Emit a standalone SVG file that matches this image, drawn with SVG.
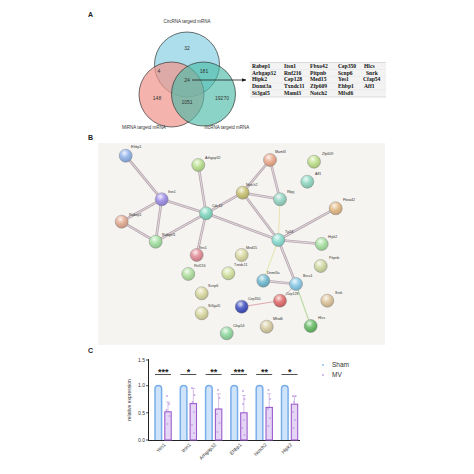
<svg xmlns="http://www.w3.org/2000/svg" xmlns:xlink="http://www.w3.org/1999/xlink" width="474" height="474" viewBox="0 0 474 474">
<defs>
<radialGradient id="hl" cx="0.4" cy="0.3" r="0.7">
<stop offset="0" stop-color="#fff" stop-opacity="0.85"/>
<stop offset="0.45" stop-color="#fff" stop-opacity="0.15"/>
<stop offset="1" stop-color="#000" stop-opacity="0.12"/>
</radialGradient>
<marker id="arr" viewBox="0 0 10 10" refX="9" refY="5" markerWidth="6" markerHeight="6" orient="auto"><path d="M0,1 L10,5 L0,9 z" fill="#222"/></marker>
</defs>
<style>
.lbl{font-family:"Liberation Sans",Arial,sans-serif;font-weight:bold;font-size:7px;fill:#222}
.vt{font-family:"Liberation Sans",Arial,sans-serif;font-size:5px;fill:#333;text-anchor:middle}
.vl{font-family:"Liberation Sans",Arial,sans-serif;font-size:4.5px;fill:#333;text-anchor:middle}
.tb{font-family:"Liberation Serif","Times New Roman",serif;font-weight:bold;font-size:5.6px;fill:#111}
.nl{font-family:"Liberation Sans",Arial,sans-serif;font-size:3.6px;fill:#333}
.nd{stroke:#8a8a8a;stroke-width:0.5}
.ax{font-family:"Liberation Sans",Arial,sans-serif;font-size:5px;fill:#333}
.st{font-family:"Liberation Sans",Arial,sans-serif;font-size:9px;font-weight:bold;fill:#222;text-anchor:middle}
.sh{fill:#cfe3fa;stroke:#78aeea;stroke-width:1.5}
.mv{fill:#e6d6f5;stroke:#9a5ccc;stroke-width:1.1}
.eb{stroke:#b894dc;stroke-width:0.6;fill:none}
.dt{fill:#c8a8e8}
.lg{font-family:"Liberation Sans",Arial,sans-serif;font-size:6.5px;fill:#333}
</style>
<rect width="474" height="474" fill="#fff"/>

<!-- Panel A -->
<text class="lbl" x="88" y="17">A</text>
<g id="venn">
<circle cx="187" cy="64.5" r="32.5" fill="#9fd8e8" fill-opacity="0.85" stroke="#333" stroke-width="0.7"/>
<circle cx="171.5" cy="94.5" r="32.5" fill="#f0958c" fill-opacity="0.72" stroke="#333" stroke-width="0.7"/>
<circle cx="203.5" cy="94" r="32" fill="#4bbca8" fill-opacity="0.65" stroke="#333" stroke-width="0.7"/>
<text class="vl" x="187" y="23">CircRNA targetd mRNA</text>
<text class="vl" x="144" y="129">MiRNA targetd mRNA</text>
<text class="vl" x="227" y="129">lncRNA targetd mRNA</text>
<text class="vt" x="187" y="50">32</text>
<text class="vt" x="159" y="73">4</text>
<text class="vt" x="204" y="73">181</text>
<text class="vt" x="187" y="82">24</text>
<text class="vt" x="157" y="100">148</text>
<text class="vt" x="187" y="104">1051</text>
<text class="vt" x="222" y="100">19270</text>
</g>
<g id="connA"><line x1="192" y1="80" x2="246" y2="80" stroke="#222" stroke-width="0.8" marker-end="url(#arr)"/></g>
<g id="table">
<rect x="250" y="62.5" width="136" height="34.5" fill="#f3f3f3"/>
<line x1="250" y1="62.5" x2="386" y2="62.5" stroke="#bbb" stroke-width="0.5"/>
<line x1="250" y1="69.5" x2="386" y2="69.5" stroke="#ddd" stroke-width="0.4"/>
<line x1="250" y1="76.3" x2="386" y2="76.3" stroke="#ddd" stroke-width="0.4"/>
<line x1="250" y1="83" x2="386" y2="83" stroke="#ddd" stroke-width="0.4"/>
<line x1="250" y1="89.7" x2="386" y2="89.7" stroke="#ddd" stroke-width="0.4"/>
<line x1="250" y1="97" x2="386" y2="97" stroke="#bbb" stroke-width="0.5"/>
<text class="tb" x="252" y="67.5">Rabep1</text><text class="tb" x="284" y="67.5">Itsn1</text><text class="tb" x="310" y="67.5">Fbxo42</text><text class="tb" x="338" y="67.5">Cep350</text><text class="tb" x="364" y="67.5">Hlcs</text>
<text class="tb" x="252" y="74.5">Arhgap32</text><text class="tb" x="284" y="74.5">Rnf216</text><text class="tb" x="310" y="74.5">Pitpnb</text><text class="tb" x="338" y="74.5">Scnp6</text><text class="tb" x="366" y="74.5">Snrk</text>
<text class="tb" x="252" y="81.3">Hipk2</text><text class="tb" x="284" y="81.3">Cep128</text><text class="tb" x="310" y="81.3">Med15</text><text class="tb" x="338" y="81.3">Yes1</text><text class="tb" x="363" y="81.3">Cfap54</text>
<text class="tb" x="252" y="88">Dnmt3a</text><text class="tb" x="284" y="88">Txndc11</text><text class="tb" x="310" y="88">Zfp609</text><text class="tb" x="338" y="88">Ehbp1</text><text class="tb" x="364" y="88">Aff1</text>
<text class="tb" x="252" y="94.7">St3gal5</text><text class="tb" x="284" y="94.7">Maml3</text><text class="tb" x="310" y="94.7">Notch2</text><text class="tb" x="338" y="94.7">Mfsd6</text>
</g>

<!-- Panel B -->
<text class="lbl" x="88" y="140">B</text>
<rect x="98" y="143" width="287" height="202" fill="#f6f4f0"/>
<g id="connectors">
<g id="edgeshapes" fill="none">
<path d="M125.7,155.7 L161.7,199.3"/>
<path d="M161.7,199.3 L121.7,221.7"/>
<path d="M161.7,199.3 L155.7,241.7"/>
<path d="M121.7,221.7 L155.7,241.7"/>
<path d="M161.7,199.3 L206,213.3"/>
<path d="M198.3,165 L206,213.3"/>
<path d="M206,213.3 L155.7,241.7"/>
<path d="M206,213.3 L242.7,192.7"/>
<path d="M206,213.3 L196.7,255"/>
<path d="M206,213.3 L278.3,240"/>
<path d="M242.7,192.7 L270,160"/>
<path d="M242.7,192.7 L280,199.3"/>
<path d="M270,160 L280,199.3"/>
<path d="M242.7,192.7 L278.3,240"/>
<path d="M278.3,240 L335.7,208.3"/>
<path d="M278.3,240 L321.7,244"/>
<path d="M278.3,240 L296,284"/>
<path d="M263.3,280.7 L296,284"/>
</g>
<use xlink:href="#edgeshapes" href="#edgeshapes" stroke="#b7a7b0" stroke-width="2.6"/>
<use xlink:href="#edgeshapes" href="#edgeshapes" stroke="#ece6ea" stroke-width="0.8"/>
<path d="M280,199.3 L278.3,240" stroke="#e4e0a8" stroke-width="0.9" fill="none"/>
<path d="M278.3,240 L263.3,280.7" stroke="#dfe2a0" stroke-width="0.9" fill="none"/>
<path d="M241.7,306.7 L280,300.7" stroke="#e0a8b0" stroke-width="1.1" fill="none"/>
<path d="M296,284 L310.7,326" stroke="#b8d8a0" stroke-width="1.1" fill="none"/>
<path d="M296,284 L280,300.7" stroke="#c8bcc4" stroke-width="1" fill="none"/>
</g>

<g id="n-Ehbp1"><circle class="nd" cx="125.7" cy="155.7" r="6.5" fill="#8fb2ea"/><circle cx="125.7" cy="155.7" r="6.5" fill="url(#hl)"/><text class="nl" x="131" y="148">Ehbp1</text></g>
<g id="n-Arhgap32"><circle class="nd" cx="198.3" cy="165" r="6.5" fill="#b8e08e"/><circle cx="198.3" cy="165" r="6.5" fill="url(#hl)"/><text class="nl" x="205" y="159">Arhgap32</text></g>
<g id="n-Maml3"><circle class="nd" cx="270" cy="160" r="6.5" fill="#eaa88a"/><circle cx="270" cy="160" r="6.5" fill="url(#hl)"/><text class="nl" x="275" y="153">Maml3</text></g>
<g id="n-Zfp609"><circle class="nd" cx="314" cy="161.7" r="6.5" fill="#bfe08a"/><circle cx="314" cy="161.7" r="6.5" fill="url(#hl)"/><text class="nl" x="322" y="155">Zfp609</text></g>
<g id="n-Aff1"><circle class="nd" cx="307.3" cy="181.7" r="6.5" fill="#8ed8c2"/><circle cx="307.3" cy="181.7" r="6.5" fill="url(#hl)"/><text class="nl" x="315" y="175">Aff1</text></g>
<g id="n-Itsn1"><circle class="nd" cx="161.7" cy="199.3" r="6.5" fill="#9c8ce6"/><circle cx="161.7" cy="199.3" r="6.5" fill="url(#hl)"/><text class="nl" x="168" y="193">Itsn1</text></g>
<g id="n-Notch2"><circle class="nd" cx="242.7" cy="192.7" r="6.5" fill="#c8c070"/><circle cx="242.7" cy="192.7" r="6.5" fill="url(#hl)"/><text class="nl" x="246" y="186">Notch2</text></g>
<g id="n-Rbpj"><circle class="nd" cx="280" cy="199.3" r="6.5" fill="#92d4c0"/><circle cx="280" cy="199.3" r="6.5" fill="url(#hl)"/><text class="nl" x="287" y="193">Rbpj</text></g>
<g id="n-Fbxo42"><circle class="nd" cx="335.7" cy="208.3" r="6.5" fill="#e2b882"/><circle cx="335.7" cy="208.3" r="6.5" fill="url(#hl)"/><text class="nl" x="343" y="201">Fbxo42</text></g>
<g id="n-Rabep1"><circle class="nd" cx="121.7" cy="221.7" r="6.5" fill="#e2aa90"/><circle cx="121.7" cy="221.7" r="6.5" fill="url(#hl)"/><text class="nl" x="129" y="216">Rabep1</text></g>
<g id="n-Cdc42"><circle class="nd" cx="206" cy="213.3" r="6.5" fill="#80d8c0"/><circle cx="206" cy="213.3" r="6.5" fill="url(#hl)"/><text class="nl" x="212" y="206.5">Cdc42</text></g>
<g id="n-Rabgef1"><circle class="nd" cx="155.7" cy="241.7" r="6.5" fill="#a2e0a2"/><circle cx="155.7" cy="241.7" r="6.5" fill="url(#hl)"/><text class="nl" x="162" y="236">Rabgef1</text></g>
<g id="n-Tp53"><circle class="nd" cx="278.3" cy="240" r="6.5" fill="#88dccf"/><circle cx="278.3" cy="240" r="6.5" fill="url(#hl)"/><text class="nl" x="285" y="233">Tp53</text></g>
<g id="n-Hipk2"><circle class="nd" cx="321.7" cy="244" r="6.5" fill="#a6e0a0"/><circle cx="321.7" cy="244" r="6.5" fill="url(#hl)"/><text class="nl" x="328" y="238">Hipk2</text></g>
<g id="n-Yes1"><circle class="nd" cx="196.7" cy="255" r="6.5" fill="#e28a96"/><circle cx="196.7" cy="255" r="6.5" fill="url(#hl)"/><text class="nl" x="199" y="249">Yes1</text></g>
<g id="n-Med15"><circle class="nd" cx="241.7" cy="255" r="6.5" fill="#d8d8a0"/><circle cx="241.7" cy="255" r="6.5" fill="url(#hl)"/><text class="nl" x="246" y="249">Med15</text></g>
<g id="n-Pitpnb"><circle class="nd" cx="320.7" cy="266" r="6.5" fill="#cfd8a0"/><circle cx="320.7" cy="266" r="6.5" fill="url(#hl)"/><text class="nl" x="329" y="259">Pitpnb</text></g>
<g id="n-Rnf216"><circle class="nd" cx="188.3" cy="274" r="6.5" fill="#b0e0a0"/><circle cx="188.3" cy="274" r="6.5" fill="url(#hl)"/><text class="nl" x="194" y="267">Rnf216</text></g>
<g id="n-Txndc11"><circle class="nd" cx="228.3" cy="273.3" r="6.5" fill="#d2e2a0"/><circle cx="228.3" cy="273.3" r="6.5" fill="url(#hl)"/><text class="nl" x="234" y="266">Txndc11</text></g>
<g id="n-Dnmt3a"><circle class="nd" cx="263.3" cy="280.7" r="6.5" fill="#70b8d0"/><circle cx="263.3" cy="280.7" r="6.5" fill="url(#hl)"/><text class="nl" x="267" y="274">Dnmt3a</text></g>
<g id="n-Brca1"><circle class="nd" cx="296" cy="284" r="6.5" fill="#86c8e6"/><circle cx="296" cy="284" r="6.5" fill="url(#hl)"/><text class="nl" x="303" y="277">Brca1</text></g>
<g id="n-Scnp6"><circle class="nd" cx="201.7" cy="293.3" r="6.5" fill="#d8d8a0"/><circle cx="201.7" cy="293.3" r="6.5" fill="url(#hl)"/><text class="nl" x="208" y="287">Scnp6</text></g>
<g id="n-Cep128"><circle class="nd" cx="280" cy="300.7" r="6.5" fill="#e06a6a"/><circle cx="280" cy="300.7" r="6.5" fill="url(#hl)"/><text class="nl" x="286" y="294.5">Cep128</text></g>
<g id="n-Snrk"><circle class="nd" cx="327.3" cy="300.7" r="6.5" fill="#dcc498"/><circle cx="327.3" cy="300.7" r="6.5" fill="url(#hl)"/><text class="nl" x="335" y="294">Snrk</text></g>
<g id="n-Cep350"><circle class="nd" cx="241.7" cy="306.7" r="6.5" fill="#3e4ec0"/><circle cx="241.7" cy="306.7" r="6.5" fill="url(#hl)"/><text class="nl" x="248" y="300">Cep350</text></g>
<g id="n-St3gal5"><circle class="nd" cx="201.7" cy="313.3" r="6.5" fill="#d8d8a0"/><circle cx="201.7" cy="313.3" r="6.5" fill="url(#hl)"/><text class="nl" x="208" y="307">St3gal5</text></g>
<g id="n-Mfsd6"><circle class="nd" cx="266.7" cy="326.7" r="6.5" fill="#d8cca2"/><circle cx="266.7" cy="326.7" r="6.5" fill="url(#hl)"/><text class="nl" x="273" y="320">Mfsd6</text></g>
<g id="n-Hlcs"><circle class="nd" cx="310.7" cy="326" r="6.5" fill="#62ba62"/><circle cx="310.7" cy="326" r="6.5" fill="url(#hl)"/><text class="nl" x="318" y="319">Hlcs</text></g>
<g id="n-Cfap54"><circle class="nd" cx="226.7" cy="333.3" r="6.5" fill="#90d8a0"/><circle cx="226.7" cy="333.3" r="6.5" fill="url(#hl)"/><text class="nl" x="233" y="327">Cfap54</text></g>

<!-- Panel C -->
<text class="lbl" x="88" y="353">C</text>
<g id="chart">
<line x1="148.5" y1="359" x2="148.5" y2="440.5" stroke="#222" stroke-width="1"/>
<line x1="148" y1="440.5" x2="300" y2="440.5" stroke="#222" stroke-width="1"/>
<g stroke="#222" stroke-width="0.8">
<line x1="146" y1="360" x2="148.5" y2="360"/><line x1="146" y1="385.7" x2="148.5" y2="385.7"/><line x1="146" y1="412.8" x2="148.5" y2="412.8"/><line x1="146" y1="440" x2="148.5" y2="440"/>
</g>
<text class="ax" x="145" y="361.7" text-anchor="end">1.5</text>
<text class="ax" x="145" y="387.4" text-anchor="end">1.0</text>
<text class="ax" x="145" y="414.5" text-anchor="end">0.5</text>
<text class="ax" x="145" y="441.7" text-anchor="end">0.0</text>
<text class="ax" x="0" y="0" text-anchor="middle" transform="translate(131,400) rotate(-90)">relative expression</text>

<path class="sh" d="M155,440 V388.7 a3.3,3.3 0 0 1 6.6,0 V440"/>
<path class="sh" d="M180.3,440 V388.7 a3.3,3.3 0 0 1 6.6,0 V440"/>
<path class="sh" d="M205.6,440 V388.7 a3.3,3.3 0 0 1 6.6,0 V440"/>
<path class="sh" d="M230.9,440 V388.7 a3.3,3.3 0 0 1 6.6,0 V440"/>
<path class="sh" d="M256.2,440 V388.7 a3.3,3.3 0 0 1 6.6,0 V440"/>
<path class="sh" d="M281.5,440 V388.7 a3.3,3.3 0 0 1 6.6,0 V440"/>

<path class="eb" d="M168,411.8 V402 M166,402 H170"/>
<path class="eb" d="M193.3,403.6 V388.4 M191.3,388.4 H195.3"/>
<path class="eb" d="M218.6,409 V393.8 M216.6,393.8 H220.6"/>
<path class="eb" d="M243.9,412.8 V395.5 M241.9,395.5 H245.9"/>
<path class="eb" d="M269.2,407.4 V393.8 M267.2,393.8 H271.2"/>
<path class="eb" d="M294.5,404.2 V396.6 M292.5,396.6 H296.5"/>
<rect class="mv" x="164.8" y="411.8" width="6.4" height="28.2"/>
<rect class="mv" x="190.1" y="403.6" width="6.4" height="36.4"/>
<rect class="mv" x="215.4" y="409" width="6.4" height="31"/>
<rect class="mv" x="240.7" y="412.8" width="6.4" height="27.2"/>
<rect class="mv" x="266" y="407.4" width="6.4" height="32.6"/>
<rect class="mv" x="291.3" y="404.2" width="6.4" height="35.8"/>
<g class="dt">
<circle cx="167" cy="396" r="1"/><circle cx="169" cy="404" r="1"/><circle cx="166.5" cy="410" r="1"/><circle cx="169.5" cy="416" r="1"/><circle cx="167.5" cy="424" r="1"/>
<circle cx="192" cy="388" r="1"/><circle cx="194.5" cy="395" r="1"/><circle cx="192.5" cy="402" r="1"/><circle cx="194" cy="412" r="1"/><circle cx="192" cy="425" r="1"/><circle cx="194" cy="433" r="1"/>
<circle cx="218" cy="390" r="1"/><circle cx="219.5" cy="398" r="1"/><circle cx="217" cy="414" r="1"/><circle cx="219.5" cy="423" r="1"/><circle cx="217.5" cy="432" r="1"/>
<circle cx="243" cy="391" r="1"/><circle cx="244.5" cy="399" r="1"/><circle cx="243" cy="404" r="1"/><circle cx="244" cy="420" r="1"/><circle cx="242.5" cy="428" r="1"/><circle cx="244.5" cy="435" r="1"/>
<circle cx="268.5" cy="390" r="1"/><circle cx="270" cy="399" r="1"/><circle cx="268" cy="409" r="1"/><circle cx="270" cy="418" r="1"/><circle cx="268.5" cy="426" r="1"/>
<circle cx="293" cy="396" r="1"/><circle cx="295.5" cy="396" r="1"/><circle cx="294" cy="402" r="1"/><circle cx="293" cy="412" r="1"/><circle cx="295" cy="420" r="1"/><circle cx="293.5" cy="428" r="1"/>
</g>
<g stroke="#222" stroke-width="0.8">
<line x1="155" y1="374.5" x2="171" y2="374.5"/><line x1="180.3" y1="374.5" x2="196.3" y2="374.5"/><line x1="205.6" y1="374.5" x2="221.6" y2="374.5"/><line x1="230.9" y1="374.5" x2="246.9" y2="374.5"/><line x1="256.2" y1="374.5" x2="272.2" y2="374.5"/><line x1="281.5" y1="374.5" x2="297.5" y2="374.5"/>
</g>
<text class="st" x="163.2" y="375">***</text>
<text class="st" x="188.5" y="375">*</text>
<text class="st" x="213.8" y="375">**</text>
<text class="st" x="239.1" y="375">***</text>
<text class="st" x="264.4" y="375">**</text>
<text class="st" x="289.7" y="375">*</text>
<g class="ax" text-anchor="end">
<text transform="translate(166,445) rotate(-45)">Yes1</text>
<text transform="translate(191.3,445) rotate(-45)">Itsn1</text>
<text transform="translate(216.6,445) rotate(-45)">Arhgap32</text>
<text transform="translate(241.9,445) rotate(-45)">Ehbp1</text>
<text transform="translate(267.2,445) rotate(-45)">Notch2</text>
<text transform="translate(292.5,445) rotate(-45)">Hipk2</text>
</g>
</g>
<g id="legend">
<circle cx="323" cy="365" r="1" fill="#8ec0f0"/><text class="lg" x="332" y="367.3">Sham</text>
<circle cx="323" cy="375" r="1" fill="#c8a8e8"/><text class="lg" x="332" y="377.3">MV</text>
</g>
</svg>
